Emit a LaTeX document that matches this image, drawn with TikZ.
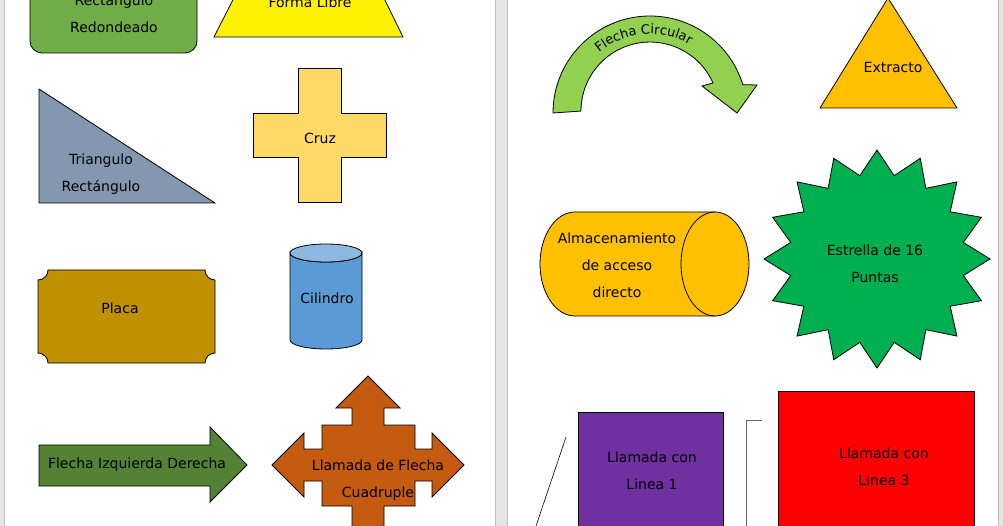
\documentclass[tikz,border=0pt]{standalone}
\usepackage{fontspec}
\setmainfont{DejaVu Sans}
\usetikzlibrary{decorations.text}
\definecolor{cgreen}{HTML}{70AD47}
\definecolor{cblue}{HTML}{8497B0}
\definecolor{ccross}{HTML}{FFD966}
\definecolor{cplaca}{HTML}{BF9000}
\definecolor{ccyl}{HTML}{5B9BD5}
\definecolor{carrow}{HTML}{548235}
\definecolor{corange}{HTML}{C55A11}
\definecolor{clime}{HTML}{92D050}
\definecolor{cgold}{HTML}{FFC000}
\definecolor{cstar}{HTML}{00B050}
\definecolor{cpurple}{HTML}{7030A0}
\begin{document}
\begin{tikzpicture}[x=1pt,y=-1pt,
  sh/.style={draw=black,line width=0.8pt},
  lbl/.style={font=\fontsize{14}{27}\selectfont,align=center,text=black}]
\useasboundingbox (0,0) rectangle (1003,526);
\fill[black!10] (0,0) rectangle (1003,526);
\fill[white,draw=black!25] (4,-2) rectangle (495,528);
\fill[white,draw=black!25] (507,-2) rectangle (998,528);
% rounded rectangle
\draw[sh,fill=cgreen,rounded corners=12pt] (30,-40) rectangle (197,53);
\node[lbl] (rr) at (114,14) {Rectángulo\\Redondeado};
% trapezoid
\draw[sh,fill=yellow] (214,37) -- (238,-10) -- (380,-10) -- (403,37) -- cycle;
\node[lbl] (fl) at (310,2) {Forma Libre};
% right triangle
\draw[sh,fill=cblue] (39,89) -- (39,203) -- (215,203) -- cycle;
\node[lbl] (tr) at (101,174) {Triangulo\\Rectángulo};
% cross
\draw[sh,fill=ccross] (298,68) -- (341,68) -- (341,113) -- (386,113) -- (386,157) -- (341,157) -- (341,202) -- (298,202) -- (298,157) -- (253,157) -- (253,113) -- (298,113) -- cycle;
\node[lbl] (cz) at (320,138) {Cruz};
% placa
\draw[sh,fill=cplaca] (48,270) -- (205,270) arc (180:90:10) -- (215,353) arc (270:180:10) -- (48,363) arc (0:-90:10) -- (38,280) arc (90:0:10) -- cycle;
\node[lbl] (pl) at (120,308) {Placa};
% cylinder
\draw[sh,fill=ccyl] (290,253) -- (290,340) arc (180:0:36 and 9) -- (362,253) arc (0:180:36 and 9) -- cycle;
\draw[sh,fill=ccyl!70] (326,253) ellipse (36 and 9);
\node[lbl] (cy) at (327,298) {Cilindro};
% right arrow
\draw[sh,fill=carrow] (39,445) -- (210,445) -- (210,427) -- (247,465) -- (210,502) -- (210,486) -- (39,486) -- cycle;
\node[lbl] (fa) at (137,465) {Flecha Izquierda Derecha};
% quad arrow callout
\draw[sh,fill=corange] (322,425) -- (352,425) -- (352,408) -- (336,408) -- (368,376) -- (400,408) -- (384,408) -- (384,425) -- (415,425) -- (415,449) -- (432,449) -- (432,433) -- (464,465) -- (432,497) -- (432,481) -- (415,481) -- (415,506) -- (384,506) -- (384,530) -- (352,530) -- (352,506) -- (322,506) -- (322,481) -- (304,481) -- (304,497) -- (272,465) -- (304,433) -- (304,449) -- (322,449) -- cycle;
\node[lbl] (qa) at (378,480) {Llamada de Flecha\\Cuadruple};
% circular arrow
\draw[sh,fill=clime] (553,113) arc (180:343:97) -- (757,85) -- (737,113) -- (702,86) -- (713,83) arc (336:180:69) -- cycle;
\path[decorate,decoration={text along path,text align=center,text={|\fontsize{13}{15}\selectfont|Flecha Circular}}] (650,113) ++(195:79) arc (195:335:79);
% extracto
\draw[sh,fill=cgold] (820,108) -- (888,-2) -- (957,108) -- cycle;
\node[lbl] (ex) at (893,68) {Extracto};
% horizontal cylinder
\draw[sh,fill=cgold] (575,212) -- (715,212) arc (-90:90:34 and 52) -- (575,316) arc (90:270:35 and 52) -- cycle;
\draw[sh] (715,212) arc (270:90:34 and 52);
\node[lbl] (hc) at (617,265) {Almacenamiento\\de acceso\\directo};
% star
\draw[sh,fill=cstar] plot[samples at={0,...,31}] ({877+(mod(\x,2)==0 ? 113 : 88)*cos(90+\x*11.25)},{259-(mod(\x,2)==0 ? 109 : 85)*sin(90+\x*11.25)}) -- cycle;
\node[lbl] (st) at (875,264) {Estrella de 16\\Puntas};
% callout 1
\draw[sh,fill=cpurple] (578,412) rectangle (723,530);
\node[lbl] (c1) at (652,471) {Llamada con\\Linea 1};
\coordinate (l1a) at (566,437);
\coordinate (l1b) at (536,526);
\draw[black,line width=0.6pt] (l1a) -- (l1b);
% callout 3
\draw[sh,fill=red] (778,391) rectangle (974,530);
\node[lbl] (c3) at (884,467) {Llamada con\\Linea 3};
\coordinate (l3a) at (762,420);
\coordinate (l3b) at (746,420);
\coordinate (l3c) at (746,528);
\draw[black!60,line width=0.8pt] (l3a) -- (l3b) -- (l3c);
\end{tikzpicture}
\end{document}
